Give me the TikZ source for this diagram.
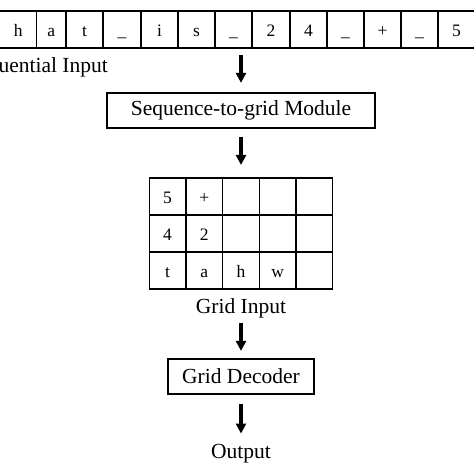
\documentclass[tikz,border=0pt]{standalone}
\usepackage{fontspec}
\setmainfont{Liberation Serif}
\usetikzlibrary{arrows.meta,positioning,matrix}
\tikzset{
  seqcell/.style={draw=black,line width=1.3pt,minimum height=37pt,inner sep=0pt,text height=14.4pt,text depth=0pt,font=\fontsize{17.5}{20}\selectfont},
  gridcell/.style={draw=black,line width=1.3pt,minimum width=36.7pt,minimum height=37pt,inner sep=0pt,text height=13.8pt,text depth=0pt,font=\fontsize{17.5}{20}\selectfont},
  modbox/.style={draw=black,line width=1.6pt,minimum height=35pt,inner sep=0pt,font=\fontsize{21.5}{24}\selectfont},
  lbl/.style={inner sep=0pt,font=\fontsize{21.5}{24}\selectfont},
  flow/.style={-{Triangle[length=10pt,width=10pt]},line width=3.3pt},
}
\begin{document}
\begin{tikzpicture}[x=1pt,y=-1pt]
    \useasboundingbox (0,0) rectangle (474,474);
    \clip (0,0) rectangle (474,474);
    \foreach \l/\r/\c [count=\i] in {-0.3/36.7/h,36.7/66/a,66/103/t,103/141/\_,141/178/i,178/215/s,215/252/\_,252/290/2,290/327/4,327/364/\_,364/401/+,401/438/\_,438/475/5}
      \node[seqcell,minimum width=\r-\l] (s\i) at ({(\l+\r)/2},29.5) {\c};
    \node[lbl,anchor=base east] (seqlbl) at (108,72) {Sequential Input};
    \coordinate (seqbot) at (241,48);
    \node[modbox,minimum width=268pt] (mod) at (241,110.5) {Sequence-to-grid Module};
    \matrix (grid) [matrix of nodes,nodes in empty cells,nodes={gridcell},column sep=-1.3pt,row sep=-1.3pt,inner sep=0pt,outer sep=0pt] at (241,233.5) {
      5 & + & & & \\
      4 & 2 & & & \\
      t & a & h & w & \\
    };
    \node[lbl,anchor=base] (gridlbl) at (241,313) {Grid Input};
    \node[modbox,minimum width=146pt] (dec) at (241,376.5) {Grid Decoder};
    \node[lbl,anchor=base] (out) at (241,458) {Output};
    \draw[flow,shorten <=7pt,shorten >=9.3pt] (seqbot) -- (mod);
    \draw[flow,shorten <=8.3pt,shorten >=12.4pt] (mod) -- (grid);
    \draw[flow,shorten <=5.3pt,shorten >=7.3pt] (gridlbl) -- (dec);
    \draw[flow,shorten <=9.3pt,shorten >=10pt] (dec) -- (out);
  \end{tikzpicture}
\end{document}
